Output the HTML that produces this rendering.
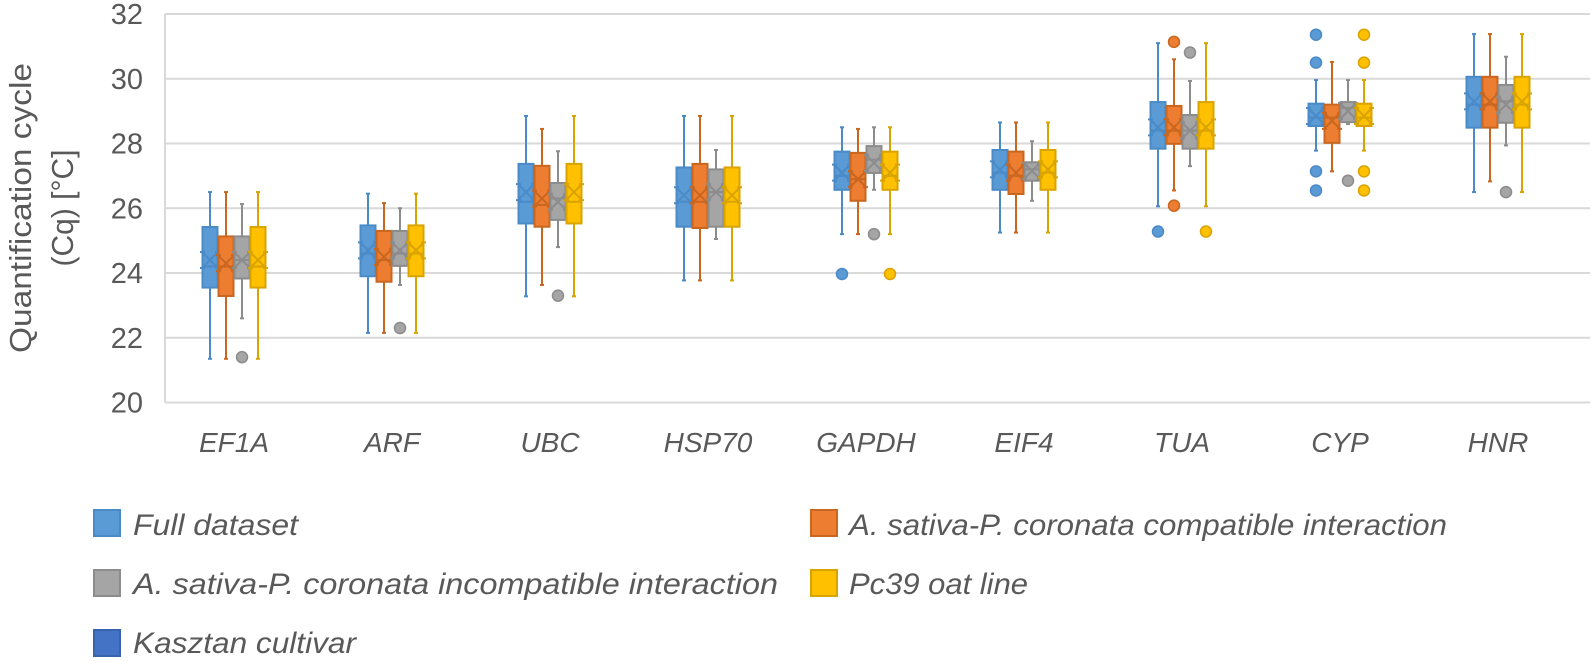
<!DOCTYPE html>
<html><head><meta charset="utf-8"><style>
html,body{margin:0;padding:0;background:#fff;}
svg{display:block;font-family:"Liberation Sans",sans-serif;}
</style></head><body>
<svg id="chart" width="1594" height="661" viewBox="0 0 1594 661" xmlns="http://www.w3.org/2000/svg">
<g id="grid"></g>
<g id="yticks"></g>
<g id="xlabels"></g>
<g id="marks"></g>
<text transform="translate(31,208) rotate(-90)" text-anchor="middle" font-size="31" fill="#595959" textLength="290" lengthAdjust="spacingAndGlyphs">Quantification cycle</text>
<text transform="translate(73,208) rotate(-90)" text-anchor="middle" font-size="31" fill="#595959" textLength="117" lengthAdjust="spacingAndGlyphs">(Cq) [°C]</text>
<g font-size="30" font-style="italic" fill="#595959">
 <g><rect x="94" y="510" width="26" height="26" fill="#5B9BD5" stroke="#4A8AC6" stroke-width="2"/><text x="133" y="535" textLength="165" lengthAdjust="spacingAndGlyphs">Full dataset</text></g>
 <g><rect x="811" y="510" width="26" height="26" fill="#ED7D31" stroke="#C9661F" stroke-width="2"/><text x="849" y="535" textLength="598" lengthAdjust="spacingAndGlyphs">A. sativa-P. coronata compatible interaction</text></g>
 <g><rect x="94" y="570" width="26" height="26" fill="#A5A5A5" stroke="#8C8C8C" stroke-width="2"/><text x="133" y="594" textLength="645" lengthAdjust="spacingAndGlyphs">A. sativa-P. coronata incompatible interaction</text></g>
 <g><rect x="811" y="570" width="26" height="26" fill="#FFC000" stroke="#D9A300" stroke-width="2"/><text x="849" y="594" textLength="179" lengthAdjust="spacingAndGlyphs">Pc39 oat line</text></g>
 <g><rect x="94" y="630" width="26" height="26" fill="#4472C4" stroke="#3A63AD" stroke-width="2"/><text x="133" y="653" textLength="223" lengthAdjust="spacingAndGlyphs">Kasztan cultivar</text></g>
</g>
</svg>
<script>
const genes = ["EF1A","ARF","UBC","HSP70","GAPDH","EIF4","TUA","CYP","HNR"];
const seriesNames = ["full","compatible","incompatible","pc39"];
const yTicks = [20,22,24,26,28,30,32];
const whiskerHigh = [
 [26.5,26.45,28.85,28.85,28.5,28.65,31.1,29.96,31.38],
 [26.5,26.16,28.45,28.85,28.45,28.65,30.6,30.52,31.38],
 [26.13,26.0,27.76,27.8,28.5,28.07,29.93,29.96,30.68],
 [26.5,26.45,28.85,28.85,28.5,28.65,31.1,29.96,31.38]];
const q3 = [
 [25.42,25.47,27.37,27.26,27.75,27.8,29.28,29.23,30.06],
 [25.13,25.3,27.31,27.37,27.71,27.75,29.16,29.2,30.06],
 [25.13,25.3,26.78,27.2,27.92,27.42,28.88,29.28,29.81],
 [25.42,25.47,27.37,27.26,27.75,27.8,29.28,29.23,30.06]];
const medians = [
 [24.2,24.6,26.2,26.2,27.0,27.1,28.4,28.8,29.2],
 [24.2,24.4,26.1,26.2,26.9,27.0,28.4,28.8,29.2],
 [24.4,24.6,26.3,26.5,27.5,27.2,28.4,29.1,29.3],
 [24.2,24.6,26.2,26.2,27.0,27.1,28.4,28.8,29.2]];
const q1 = [
 [23.55,23.9,25.53,25.43,26.57,26.57,27.84,28.54,28.49],
 [23.29,23.73,25.43,25.39,26.23,26.44,27.99,28.02,28.49],
 [23.83,24.22,25.64,25.43,27.09,26.85,27.84,28.66,28.64],
 [23.55,23.9,25.53,25.43,26.57,26.57,27.84,28.54,28.49]];
const whiskerLow = [
 [21.35,22.15,23.28,23.77,25.2,25.25,26.06,27.78,26.5],
 [21.35,22.15,23.63,23.77,25.2,25.25,26.55,27.14,26.83],
 [22.6,23.63,24.8,25.05,26.57,26.23,27.3,28.6,27.94],
 [21.35,22.15,23.28,23.77,25.2,25.25,26.06,27.78,26.5]];
const means = [
 [24.4,24.7,26.5,26.4,27.1,27.2,28.5,28.85,29.3],
 [24.3,24.5,26.3,26.4,26.9,27.1,28.5,28.7,29.3],
 [24.4,24.7,26.2,26.5,27.4,27.15,28.4,29.0,29.2],
 [24.4,24.7,26.5,26.4,27.1,27.2,28.5,28.85,29.3]];
const outliers = [
 [[],[],[],[],[23.97],[],[25.28],[31.36,30.5,27.14,26.55],[]],
 [[],[],[],[],[],[],[31.14,26.08],[],[]],
 [[21.4],[22.3],[23.3],[],[25.2],[],[30.81],[26.85],[26.5]],
 [[],[],[],[],[23.97],[],[25.28],[31.36,30.5,27.14,26.55],[]]];

const fills = ["#5B9BD5","#ED7D31","#A5A5A5","#FFC000"];
const strokes = ["#4A8AC6","#C9661F","#8C8C8C","#D9A300"];
const NS = "http://www.w3.org/2000/svg";
const plotL = 165, plotR = 1590, yBottom = 402.5, yTop = 14;
function yScale(v){ return yBottom - (v-20)/(32-20)*(yBottom-yTop); }
function xCenter(i){ return 234 + i*158; }
function seriesX(i,s){ return xCenter(i) + (s-1.5)*16; }
function mk(tag, attrs, parent){ const e=document.createElementNS(NS,tag); for(const k in attrs) e.setAttribute(k,attrs[k]); parent.appendChild(e); return e; }

const grid = document.getElementById('grid');
yTicks.forEach(t=>{
  const l = mk('line',{x1:plotL,x2:plotR,y1:yScale(t),y2:yScale(t),stroke:'#d9d9d9','stroke-width':2},grid);
  
  
});
const ax = mk('line',{x1:plotL,x2:plotL,y1:yTop,y2:yBottom,stroke:'#d9d9d9','stroke-width':2},grid);



const yt = document.getElementById('yticks');
yTicks.forEach(t=>{
  const tx = mk('text',{x:143,y:yScale(t)+10,'text-anchor':'end','font-size':29,fill:'#595959'},yt);
  tx.textContent = t;
  
  
});
const xl = document.getElementById('xlabels');
genes.forEach((g,i)=>{
  const tx = mk('text',{x:xCenter(i),y:452,'text-anchor':'middle','font-size':28,'font-style':'italic',fill:'#595959'},xl);
  tx.textContent = g;
  
  
});

const marks = document.getElementById('marks');
const bw = 15;
for(let s=0;s<4;s++){
  for(let i=0;i<genes.length;i++){
    const g = mk('g',{},marks);
    
    
    const cx = seriesX(i,s), st = strokes[s], fl = fills[s];
    mk('line',{x1:cx,x2:cx,y1:yScale(whiskerHigh[s][i]),y2:yScale(whiskerLow[s][i]),stroke:st,'stroke-width':2},g);
    mk('line',{x1:cx-2,x2:cx+2,y1:yScale(whiskerHigh[s][i]),y2:yScale(whiskerHigh[s][i]),stroke:st,'stroke-width':2},g);
    mk('line',{x1:cx-2,x2:cx+2,y1:yScale(whiskerLow[s][i]),y2:yScale(whiskerLow[s][i]),stroke:st,'stroke-width':2},g);
    const yq3 = yScale(q3[s][i]), yq1 = yScale(q1[s][i]);
    mk('rect',{x:cx-bw/2,y:yq3,width:bw,height:yq1-yq3,fill:fl,stroke:st,'stroke-width':2},g);
    const ym = yScale(medians[s][i]);
    mk('line',{x1:cx-bw/2,x2:cx+bw/2,y1:ym,y2:ym,stroke:st,'stroke-width':2},g);
    const yMean = yScale(means[s][i]), h=8, w=8;
    mk('path',{d:`M${cx-w} ${yMean-h}L${cx+w} ${yMean+h}M${cx+w} ${yMean-h}L${cx-w} ${yMean+h}M${cx-w-2} ${yMean-h}H${cx-w+3}M${cx+w-3} ${yMean-h}H${cx+w+2}M${cx-w-2} ${yMean+h}H${cx-w+3}M${cx+w-3} ${yMean+h}H${cx+w+2}`,stroke:st,'stroke-width':2,fill:'none'},g);
    outliers[s][i].forEach(v=>{
      const c = mk('circle',{cx:cx,cy:yScale(v),r:5.5,fill:fl,stroke:st,'stroke-width':1.5},g);
      
      
    });
  }
}
</script>
</body></html>
